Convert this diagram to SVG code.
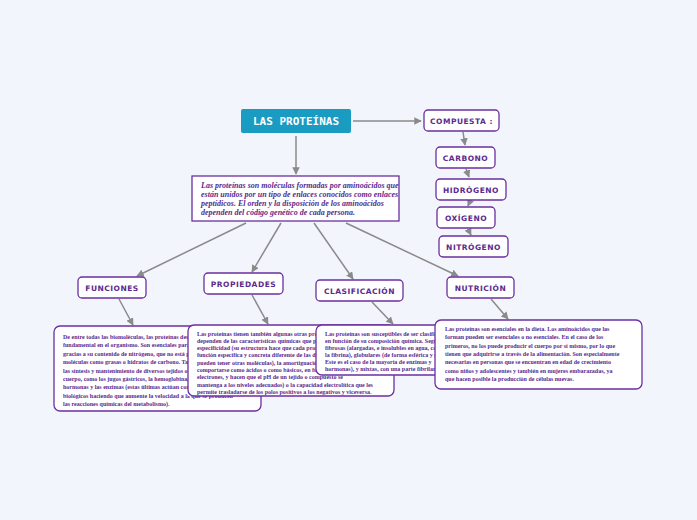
<svg xmlns="http://www.w3.org/2000/svg" width="697" height="520" viewBox="0 0 697 520">
<defs>
<marker id="ah" viewBox="0 0 10 10" refX="9" refY="5" markerWidth="5" markerHeight="5" orient="auto"><path d="M0,0L10,5L0,10z" fill="#8a8a8a"/></marker>
<clipPath id="cf"><rect x="54" y="326" width="134" height="85"/><rect x="188" y="396" width="73" height="15"/></clipPath>
<clipPath id="cp"><rect x="188" y="325" width="128" height="71"/><rect x="316" y="375" width="78" height="21"/></clipPath>
<clipPath id="cc"><rect x="316" y="325" width="119" height="50"/></clipPath>
<style>
.c{stroke:#8a8a8a;stroke-width:1.5;fill:none;marker-end:url(#ah)}
.n rect{fill:#fff;stroke:#6b2fa0;stroke-width:1.3}
.n text{font-family:"DejaVu Sans",sans-serif;font-weight:bold;font-size:7.5px;fill:#5a2a8e;text-anchor:middle;letter-spacing:0.5px}
.t text{font-family:"Liberation Serif",serif;font-weight:bold;font-size:6px;fill:#5a2a8e}
.t rect{fill:#fff;stroke:#6b2fa0;stroke-width:1.3}
</style>
</defs>
<rect width="697" height="520" fill="#f3f5fd"/>
<g id="connectors">
<path class="c" d="M296,136L296,174"/>
<path class="c" d="M353,121L421,121"/>
<path class="c" d="M463,132L465,145"/>
<path class="c" d="M466,169L469,177"/>
<path class="c" d="M470,201L468,206"/>
<path class="c" d="M468,229L471,235"/>
<path class="c" d="M246,223L137,276"/>
<path class="c" d="M281,223L252,272"/>
<path class="c" d="M314,223L353,279"/>
<path class="c" d="M346,223L458,276"/>
<path class="c" d="M119,299L133,325"/>
<path class="c" d="M252,295L268,324"/>
<path class="c" d="M372,302L393,324"/>
<path class="c" d="M491,299L508,319"/>
</g>
<g id="title"><rect x="241" y="109" width="110" height="24" rx="2" fill="#1a9bc1"/><text x="296" y="125" font-family="DejaVu Sans Mono,monospace" font-weight="bold" font-size="11" fill="#fff" text-anchor="middle">LAS PROTEÍNAS</text></g>
<g id="compuesta" class="n"><rect x="424" y="110" width="75" height="21" rx="4"/><text x="461.5" y="123.5">COMPUESTA :</text></g>
<g id="carbono" class="n"><rect x="436" y="147" width="59" height="21" rx="4"/><text x="465.5" y="160.5">CARBONO</text></g>
<g id="hidrogeno" class="n"><rect x="436" y="179" width="70" height="21" rx="4"/><text x="471" y="192.5">HIDRÓGENO</text></g>
<g id="oxigeno" class="n"><rect x="437" y="207" width="58" height="21" rx="4"/><text x="466" y="220.5">OXÍGENO</text></g>
<g id="nitrogeno" class="n"><rect x="439" y="236" width="69" height="21" rx="4"/><text x="473.5" y="249.5">NITRÓGENO</text></g>
<g id="desc"><rect x="192" y="176" width="207" height="45" fill="#fff" stroke="#6b2fa0" stroke-width="1.3"/>
<text font-family="Liberation Serif,serif" font-style="italic" font-weight="bold" font-size="8" fill="#5a2a8e"><tspan x="201" y="188">Las proteínas son moléculas formadas por aminoácidos que</tspan><tspan x="201" y="197">están unidos por un tipo de enlaces conocidos como enlaces</tspan><tspan x="201" y="206">peptídicos. El orden y la disposición de los aminoácidos</tspan><tspan x="201" y="215">dependen del código genético de cada persona.</tspan></text></g>
<g id="funciones" class="n"><rect x="78" y="277" width="68" height="21" rx="4"/><text x="112" y="290.5">FUNCIONES</text></g>
<g id="propiedades" class="n"><rect x="204" y="273" width="79" height="21" rx="4"/><text x="243.5" y="286.5">PROPIEDADES</text></g>
<g id="clasificacion" class="n"><rect x="316" y="280" width="87" height="21" rx="4"/><text x="359.5" y="293.5">CLASIFICACIÓN</text></g>
<g id="nutricion" class="n"><rect x="447" y="277" width="67" height="21" rx="4"/><text x="480.5" y="290.5">NUTRICIÓN</text></g>
<g id="funciones-text" class="t"><rect x="54" y="326" width="207" height="85" rx="6"/>
<text clip-path="url(#cf)"><tspan x="63" y="339">De entre todas las biomoléculas, las proteínas desempeñan un papel</tspan><tspan x="63" y="347.4">fundamental en el organismo. Son esenciales para el crecimiento,</tspan><tspan x="63" y="355.8">gracias a su contenido de nitrógeno, que no está presente en otras</tspan><tspan x="63" y="364.2">moléculas como grasas o hidratos de carbono. También lo son para</tspan><tspan x="63" y="372.6">las síntesis y mantenimiento de diversos tejidos o componentes del</tspan><tspan x="63" y="381">cuerpo, como los jugos gástricos, la hemoglobina, las vitaminas, las</tspan><tspan x="63" y="389.4">hormonas y las enzimas (estas últimas actúan como catalizadores</tspan><tspan x="63" y="397.8">biológicos haciendo que aumente la velocidad a la que se producen</tspan><tspan x="63" y="406.2">las reacciones químicas del metabolismo).</tspan></text></g>
<g id="propiedades-text" class="t"><rect x="188" y="325" width="206" height="71" rx="6"/>
<text clip-path="url(#cp)"><tspan x="197" y="335.5">Las proteínas tienen también algunas otras propiedades, que</tspan><tspan x="197" y="342.8">dependen de las características químicas que poseen: la</tspan><tspan x="197" y="350.1">especificidad (su estructura hace que cada proteína desempeñe una</tspan><tspan x="197" y="357.4">función específica y concreta diferente de las demás y de la que</tspan><tspan x="197" y="364.7">pueden tener otras moléculas), la amortiguación de pH (pueden</tspan><tspan x="197" y="372">comportarse como ácidos o como básicos, en función de si pierden</tspan><tspan x="197" y="379.3">electrones, y hacen que el pH de un tejido o compuesto se</tspan><tspan x="197" y="386.6">mantenga a los niveles adecuados) o la capacidad electrolítica que les</tspan><tspan x="197" y="393.9">permite trasladarse de los polos positivos a los negativos y viceversa.</tspan></text></g>
<g id="clasificacion-text" class="t"><rect x="316" y="325" width="130" height="50" rx="6"/>
<text clip-path="url(#cc)"><tspan x="325" y="336">Las proteínas son susceptibles de ser clasificadas</tspan><tspan x="325" y="343">en función de su composición química. Según ella</tspan><tspan x="325" y="350">fibrosas (alargadas, e insolubles en agua, como</tspan><tspan x="325" y="357">la fibrina), globulares (de forma esférica y solubles)</tspan><tspan x="325" y="364">Este es el caso de la mayoría de enzimas y</tspan><tspan x="325" y="371">hormonas), y mixtas, con una parte fibrilar</tspan></text></g>
<g id="nutricion-text" class="t"><rect x="435" y="320" width="207" height="69" rx="6"/>
<text><tspan x="445" y="331">Las proteínas son esenciales en la dieta. Los aminoácidos que las</tspan><tspan x="445" y="339.3">forman pueden ser esenciales o no esenciales. En el caso de los</tspan><tspan x="445" y="347.6">primeros, no los puede producir el cuerpo por sí mismo, por lo que</tspan><tspan x="445" y="355.9">tienen que adquirirse a través de la alimentación. Son especialmente</tspan><tspan x="445" y="364.2">necesarias en personas que se encuentran en edad de crecimiento</tspan><tspan x="445" y="372.5">como niños y adolescentes y también en mujeres embarazadas, ya</tspan><tspan x="445" y="380.8">que hacen posible la producción de células nuevas.</tspan></text></g>
</svg>
